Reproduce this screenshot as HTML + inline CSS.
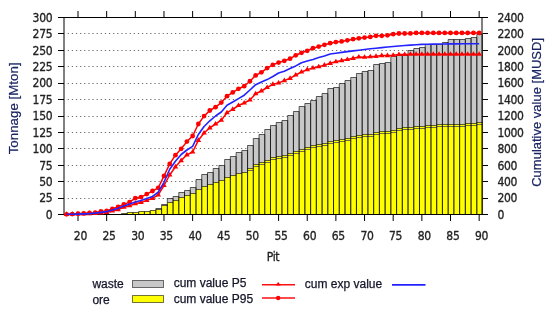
<!DOCTYPE html>
<html><head><meta charset="utf-8"><style>
html,body{margin:0;padding:0;background:#fff;}
body{width:550px;height:310px;position:relative;overflow:hidden;}
</style></head><body>
<svg width="550" height="310" viewBox="0 0 550 310" style="position:absolute;left:0;top:0">
<path d="M67.70 198.00h1.2v1h-1.2zM71.83 198.00h1.2v1h-1.2zM75.96 198.00h1.2v1h-1.2zM80.08 198.00h1.2v1h-1.2zM84.21 198.00h1.2v1h-1.2zM88.34 198.00h1.2v1h-1.2zM92.47 198.00h1.2v1h-1.2zM96.60 198.00h1.2v1h-1.2zM100.72 198.00h1.2v1h-1.2zM104.85 198.00h1.2v1h-1.2zM108.98 198.00h1.2v1h-1.2zM113.11 198.00h1.2v1h-1.2zM117.24 198.00h1.2v1h-1.2zM121.36 198.00h1.2v1h-1.2zM125.49 198.00h1.2v1h-1.2zM129.62 198.00h1.2v1h-1.2zM133.75 198.00h1.2v1h-1.2zM137.88 198.00h1.2v1h-1.2zM142.00 198.00h1.2v1h-1.2zM146.13 198.00h1.2v1h-1.2zM150.26 198.00h1.2v1h-1.2zM154.39 198.00h1.2v1h-1.2zM158.52 198.00h1.2v1h-1.2zM162.64 198.00h1.2v1h-1.2zM166.77 198.00h1.2v1h-1.2zM170.90 198.00h1.2v1h-1.2zM175.03 198.00h1.2v1h-1.2zM179.16 198.00h1.2v1h-1.2zM183.28 198.00h1.2v1h-1.2zM187.41 198.00h1.2v1h-1.2zM191.54 198.00h1.2v1h-1.2zM195.67 198.00h1.2v1h-1.2zM199.80 198.00h1.2v1h-1.2zM203.92 198.00h1.2v1h-1.2zM208.05 198.00h1.2v1h-1.2zM212.18 198.00h1.2v1h-1.2zM216.31 198.00h1.2v1h-1.2zM220.44 198.00h1.2v1h-1.2zM224.56 198.00h1.2v1h-1.2zM228.69 198.00h1.2v1h-1.2zM232.82 198.00h1.2v1h-1.2zM236.95 198.00h1.2v1h-1.2zM241.08 198.00h1.2v1h-1.2zM245.20 198.00h1.2v1h-1.2zM249.33 198.00h1.2v1h-1.2zM253.46 198.00h1.2v1h-1.2zM257.59 198.00h1.2v1h-1.2zM261.72 198.00h1.2v1h-1.2zM265.84 198.00h1.2v1h-1.2zM269.97 198.00h1.2v1h-1.2zM274.10 198.00h1.2v1h-1.2zM278.23 198.00h1.2v1h-1.2zM282.36 198.00h1.2v1h-1.2zM286.48 198.00h1.2v1h-1.2zM290.61 198.00h1.2v1h-1.2zM294.74 198.00h1.2v1h-1.2zM298.87 198.00h1.2v1h-1.2zM303.00 198.00h1.2v1h-1.2zM307.12 198.00h1.2v1h-1.2zM311.25 198.00h1.2v1h-1.2zM315.38 198.00h1.2v1h-1.2zM319.51 198.00h1.2v1h-1.2zM323.64 198.00h1.2v1h-1.2zM327.76 198.00h1.2v1h-1.2zM331.89 198.00h1.2v1h-1.2zM336.02 198.00h1.2v1h-1.2zM340.15 198.00h1.2v1h-1.2zM344.28 198.00h1.2v1h-1.2zM348.40 198.00h1.2v1h-1.2zM352.53 198.00h1.2v1h-1.2zM356.66 198.00h1.2v1h-1.2zM360.79 198.00h1.2v1h-1.2zM364.92 198.00h1.2v1h-1.2zM369.04 198.00h1.2v1h-1.2zM373.17 198.00h1.2v1h-1.2zM377.30 198.00h1.2v1h-1.2zM381.43 198.00h1.2v1h-1.2zM385.56 198.00h1.2v1h-1.2zM389.68 198.00h1.2v1h-1.2zM393.81 198.00h1.2v1h-1.2zM397.94 198.00h1.2v1h-1.2zM402.07 198.00h1.2v1h-1.2zM406.20 198.00h1.2v1h-1.2zM410.32 198.00h1.2v1h-1.2zM414.45 198.00h1.2v1h-1.2zM418.58 198.00h1.2v1h-1.2zM422.71 198.00h1.2v1h-1.2zM426.84 198.00h1.2v1h-1.2zM430.96 198.00h1.2v1h-1.2zM435.09 198.00h1.2v1h-1.2zM439.22 198.00h1.2v1h-1.2zM443.35 198.00h1.2v1h-1.2zM447.48 198.00h1.2v1h-1.2zM451.60 198.00h1.2v1h-1.2zM455.73 198.00h1.2v1h-1.2zM459.86 198.00h1.2v1h-1.2zM463.99 198.00h1.2v1h-1.2zM468.12 198.00h1.2v1h-1.2zM472.24 198.00h1.2v1h-1.2zM476.37 198.00h1.2v1h-1.2zM480.50 198.00h1.2v1h-1.2z" fill="#6a6a6a"/>
<path d="M67.70 181.00h1.2v1h-1.2zM71.83 181.00h1.2v1h-1.2zM75.96 181.00h1.2v1h-1.2zM80.08 181.00h1.2v1h-1.2zM84.21 181.00h1.2v1h-1.2zM88.34 181.00h1.2v1h-1.2zM92.47 181.00h1.2v1h-1.2zM96.60 181.00h1.2v1h-1.2zM100.72 181.00h1.2v1h-1.2zM104.85 181.00h1.2v1h-1.2zM108.98 181.00h1.2v1h-1.2zM113.11 181.00h1.2v1h-1.2zM117.24 181.00h1.2v1h-1.2zM121.36 181.00h1.2v1h-1.2zM125.49 181.00h1.2v1h-1.2zM129.62 181.00h1.2v1h-1.2zM133.75 181.00h1.2v1h-1.2zM137.88 181.00h1.2v1h-1.2zM142.00 181.00h1.2v1h-1.2zM146.13 181.00h1.2v1h-1.2zM150.26 181.00h1.2v1h-1.2zM154.39 181.00h1.2v1h-1.2zM158.52 181.00h1.2v1h-1.2zM162.64 181.00h1.2v1h-1.2zM166.77 181.00h1.2v1h-1.2zM170.90 181.00h1.2v1h-1.2zM175.03 181.00h1.2v1h-1.2zM179.16 181.00h1.2v1h-1.2zM183.28 181.00h1.2v1h-1.2zM187.41 181.00h1.2v1h-1.2zM191.54 181.00h1.2v1h-1.2zM195.67 181.00h1.2v1h-1.2zM199.80 181.00h1.2v1h-1.2zM203.92 181.00h1.2v1h-1.2zM208.05 181.00h1.2v1h-1.2zM212.18 181.00h1.2v1h-1.2zM216.31 181.00h1.2v1h-1.2zM220.44 181.00h1.2v1h-1.2zM224.56 181.00h1.2v1h-1.2zM228.69 181.00h1.2v1h-1.2zM232.82 181.00h1.2v1h-1.2zM236.95 181.00h1.2v1h-1.2zM241.08 181.00h1.2v1h-1.2zM245.20 181.00h1.2v1h-1.2zM249.33 181.00h1.2v1h-1.2zM253.46 181.00h1.2v1h-1.2zM257.59 181.00h1.2v1h-1.2zM261.72 181.00h1.2v1h-1.2zM265.84 181.00h1.2v1h-1.2zM269.97 181.00h1.2v1h-1.2zM274.10 181.00h1.2v1h-1.2zM278.23 181.00h1.2v1h-1.2zM282.36 181.00h1.2v1h-1.2zM286.48 181.00h1.2v1h-1.2zM290.61 181.00h1.2v1h-1.2zM294.74 181.00h1.2v1h-1.2zM298.87 181.00h1.2v1h-1.2zM303.00 181.00h1.2v1h-1.2zM307.12 181.00h1.2v1h-1.2zM311.25 181.00h1.2v1h-1.2zM315.38 181.00h1.2v1h-1.2zM319.51 181.00h1.2v1h-1.2zM323.64 181.00h1.2v1h-1.2zM327.76 181.00h1.2v1h-1.2zM331.89 181.00h1.2v1h-1.2zM336.02 181.00h1.2v1h-1.2zM340.15 181.00h1.2v1h-1.2zM344.28 181.00h1.2v1h-1.2zM348.40 181.00h1.2v1h-1.2zM352.53 181.00h1.2v1h-1.2zM356.66 181.00h1.2v1h-1.2zM360.79 181.00h1.2v1h-1.2zM364.92 181.00h1.2v1h-1.2zM369.04 181.00h1.2v1h-1.2zM373.17 181.00h1.2v1h-1.2zM377.30 181.00h1.2v1h-1.2zM381.43 181.00h1.2v1h-1.2zM385.56 181.00h1.2v1h-1.2zM389.68 181.00h1.2v1h-1.2zM393.81 181.00h1.2v1h-1.2zM397.94 181.00h1.2v1h-1.2zM402.07 181.00h1.2v1h-1.2zM406.20 181.00h1.2v1h-1.2zM410.32 181.00h1.2v1h-1.2zM414.45 181.00h1.2v1h-1.2zM418.58 181.00h1.2v1h-1.2zM422.71 181.00h1.2v1h-1.2zM426.84 181.00h1.2v1h-1.2zM430.96 181.00h1.2v1h-1.2zM435.09 181.00h1.2v1h-1.2zM439.22 181.00h1.2v1h-1.2zM443.35 181.00h1.2v1h-1.2zM447.48 181.00h1.2v1h-1.2zM451.60 181.00h1.2v1h-1.2zM455.73 181.00h1.2v1h-1.2zM459.86 181.00h1.2v1h-1.2zM463.99 181.00h1.2v1h-1.2zM468.12 181.00h1.2v1h-1.2zM472.24 181.00h1.2v1h-1.2zM476.37 181.00h1.2v1h-1.2zM480.50 181.00h1.2v1h-1.2z" fill="#6a6a6a"/>
<path d="M67.70 165.00h1.2v1h-1.2zM71.83 165.00h1.2v1h-1.2zM75.96 165.00h1.2v1h-1.2zM80.08 165.00h1.2v1h-1.2zM84.21 165.00h1.2v1h-1.2zM88.34 165.00h1.2v1h-1.2zM92.47 165.00h1.2v1h-1.2zM96.60 165.00h1.2v1h-1.2zM100.72 165.00h1.2v1h-1.2zM104.85 165.00h1.2v1h-1.2zM108.98 165.00h1.2v1h-1.2zM113.11 165.00h1.2v1h-1.2zM117.24 165.00h1.2v1h-1.2zM121.36 165.00h1.2v1h-1.2zM125.49 165.00h1.2v1h-1.2zM129.62 165.00h1.2v1h-1.2zM133.75 165.00h1.2v1h-1.2zM137.88 165.00h1.2v1h-1.2zM142.00 165.00h1.2v1h-1.2zM146.13 165.00h1.2v1h-1.2zM150.26 165.00h1.2v1h-1.2zM154.39 165.00h1.2v1h-1.2zM158.52 165.00h1.2v1h-1.2zM162.64 165.00h1.2v1h-1.2zM166.77 165.00h1.2v1h-1.2zM170.90 165.00h1.2v1h-1.2zM175.03 165.00h1.2v1h-1.2zM179.16 165.00h1.2v1h-1.2zM183.28 165.00h1.2v1h-1.2zM187.41 165.00h1.2v1h-1.2zM191.54 165.00h1.2v1h-1.2zM195.67 165.00h1.2v1h-1.2zM199.80 165.00h1.2v1h-1.2zM203.92 165.00h1.2v1h-1.2zM208.05 165.00h1.2v1h-1.2zM212.18 165.00h1.2v1h-1.2zM216.31 165.00h1.2v1h-1.2zM220.44 165.00h1.2v1h-1.2zM224.56 165.00h1.2v1h-1.2zM228.69 165.00h1.2v1h-1.2zM232.82 165.00h1.2v1h-1.2zM236.95 165.00h1.2v1h-1.2zM241.08 165.00h1.2v1h-1.2zM245.20 165.00h1.2v1h-1.2zM249.33 165.00h1.2v1h-1.2zM253.46 165.00h1.2v1h-1.2zM257.59 165.00h1.2v1h-1.2zM261.72 165.00h1.2v1h-1.2zM265.84 165.00h1.2v1h-1.2zM269.97 165.00h1.2v1h-1.2zM274.10 165.00h1.2v1h-1.2zM278.23 165.00h1.2v1h-1.2zM282.36 165.00h1.2v1h-1.2zM286.48 165.00h1.2v1h-1.2zM290.61 165.00h1.2v1h-1.2zM294.74 165.00h1.2v1h-1.2zM298.87 165.00h1.2v1h-1.2zM303.00 165.00h1.2v1h-1.2zM307.12 165.00h1.2v1h-1.2zM311.25 165.00h1.2v1h-1.2zM315.38 165.00h1.2v1h-1.2zM319.51 165.00h1.2v1h-1.2zM323.64 165.00h1.2v1h-1.2zM327.76 165.00h1.2v1h-1.2zM331.89 165.00h1.2v1h-1.2zM336.02 165.00h1.2v1h-1.2zM340.15 165.00h1.2v1h-1.2zM344.28 165.00h1.2v1h-1.2zM348.40 165.00h1.2v1h-1.2zM352.53 165.00h1.2v1h-1.2zM356.66 165.00h1.2v1h-1.2zM360.79 165.00h1.2v1h-1.2zM364.92 165.00h1.2v1h-1.2zM369.04 165.00h1.2v1h-1.2zM373.17 165.00h1.2v1h-1.2zM377.30 165.00h1.2v1h-1.2zM381.43 165.00h1.2v1h-1.2zM385.56 165.00h1.2v1h-1.2zM389.68 165.00h1.2v1h-1.2zM393.81 165.00h1.2v1h-1.2zM397.94 165.00h1.2v1h-1.2zM402.07 165.00h1.2v1h-1.2zM406.20 165.00h1.2v1h-1.2zM410.32 165.00h1.2v1h-1.2zM414.45 165.00h1.2v1h-1.2zM418.58 165.00h1.2v1h-1.2zM422.71 165.00h1.2v1h-1.2zM426.84 165.00h1.2v1h-1.2zM430.96 165.00h1.2v1h-1.2zM435.09 165.00h1.2v1h-1.2zM439.22 165.00h1.2v1h-1.2zM443.35 165.00h1.2v1h-1.2zM447.48 165.00h1.2v1h-1.2zM451.60 165.00h1.2v1h-1.2zM455.73 165.00h1.2v1h-1.2zM459.86 165.00h1.2v1h-1.2zM463.99 165.00h1.2v1h-1.2zM468.12 165.00h1.2v1h-1.2zM472.24 165.00h1.2v1h-1.2zM476.37 165.00h1.2v1h-1.2zM480.50 165.00h1.2v1h-1.2z" fill="#6a6a6a"/>
<path d="M67.70 148.00h1.2v1h-1.2zM71.83 148.00h1.2v1h-1.2zM75.96 148.00h1.2v1h-1.2zM80.08 148.00h1.2v1h-1.2zM84.21 148.00h1.2v1h-1.2zM88.34 148.00h1.2v1h-1.2zM92.47 148.00h1.2v1h-1.2zM96.60 148.00h1.2v1h-1.2zM100.72 148.00h1.2v1h-1.2zM104.85 148.00h1.2v1h-1.2zM108.98 148.00h1.2v1h-1.2zM113.11 148.00h1.2v1h-1.2zM117.24 148.00h1.2v1h-1.2zM121.36 148.00h1.2v1h-1.2zM125.49 148.00h1.2v1h-1.2zM129.62 148.00h1.2v1h-1.2zM133.75 148.00h1.2v1h-1.2zM137.88 148.00h1.2v1h-1.2zM142.00 148.00h1.2v1h-1.2zM146.13 148.00h1.2v1h-1.2zM150.26 148.00h1.2v1h-1.2zM154.39 148.00h1.2v1h-1.2zM158.52 148.00h1.2v1h-1.2zM162.64 148.00h1.2v1h-1.2zM166.77 148.00h1.2v1h-1.2zM170.90 148.00h1.2v1h-1.2zM175.03 148.00h1.2v1h-1.2zM179.16 148.00h1.2v1h-1.2zM183.28 148.00h1.2v1h-1.2zM187.41 148.00h1.2v1h-1.2zM191.54 148.00h1.2v1h-1.2zM195.67 148.00h1.2v1h-1.2zM199.80 148.00h1.2v1h-1.2zM203.92 148.00h1.2v1h-1.2zM208.05 148.00h1.2v1h-1.2zM212.18 148.00h1.2v1h-1.2zM216.31 148.00h1.2v1h-1.2zM220.44 148.00h1.2v1h-1.2zM224.56 148.00h1.2v1h-1.2zM228.69 148.00h1.2v1h-1.2zM232.82 148.00h1.2v1h-1.2zM236.95 148.00h1.2v1h-1.2zM241.08 148.00h1.2v1h-1.2zM245.20 148.00h1.2v1h-1.2zM249.33 148.00h1.2v1h-1.2zM253.46 148.00h1.2v1h-1.2zM257.59 148.00h1.2v1h-1.2zM261.72 148.00h1.2v1h-1.2zM265.84 148.00h1.2v1h-1.2zM269.97 148.00h1.2v1h-1.2zM274.10 148.00h1.2v1h-1.2zM278.23 148.00h1.2v1h-1.2zM282.36 148.00h1.2v1h-1.2zM286.48 148.00h1.2v1h-1.2zM290.61 148.00h1.2v1h-1.2zM294.74 148.00h1.2v1h-1.2zM298.87 148.00h1.2v1h-1.2zM303.00 148.00h1.2v1h-1.2zM307.12 148.00h1.2v1h-1.2zM311.25 148.00h1.2v1h-1.2zM315.38 148.00h1.2v1h-1.2zM319.51 148.00h1.2v1h-1.2zM323.64 148.00h1.2v1h-1.2zM327.76 148.00h1.2v1h-1.2zM331.89 148.00h1.2v1h-1.2zM336.02 148.00h1.2v1h-1.2zM340.15 148.00h1.2v1h-1.2zM344.28 148.00h1.2v1h-1.2zM348.40 148.00h1.2v1h-1.2zM352.53 148.00h1.2v1h-1.2zM356.66 148.00h1.2v1h-1.2zM360.79 148.00h1.2v1h-1.2zM364.92 148.00h1.2v1h-1.2zM369.04 148.00h1.2v1h-1.2zM373.17 148.00h1.2v1h-1.2zM377.30 148.00h1.2v1h-1.2zM381.43 148.00h1.2v1h-1.2zM385.56 148.00h1.2v1h-1.2zM389.68 148.00h1.2v1h-1.2zM393.81 148.00h1.2v1h-1.2zM397.94 148.00h1.2v1h-1.2zM402.07 148.00h1.2v1h-1.2zM406.20 148.00h1.2v1h-1.2zM410.32 148.00h1.2v1h-1.2zM414.45 148.00h1.2v1h-1.2zM418.58 148.00h1.2v1h-1.2zM422.71 148.00h1.2v1h-1.2zM426.84 148.00h1.2v1h-1.2zM430.96 148.00h1.2v1h-1.2zM435.09 148.00h1.2v1h-1.2zM439.22 148.00h1.2v1h-1.2zM443.35 148.00h1.2v1h-1.2zM447.48 148.00h1.2v1h-1.2zM451.60 148.00h1.2v1h-1.2zM455.73 148.00h1.2v1h-1.2zM459.86 148.00h1.2v1h-1.2zM463.99 148.00h1.2v1h-1.2zM468.12 148.00h1.2v1h-1.2zM472.24 148.00h1.2v1h-1.2zM476.37 148.00h1.2v1h-1.2zM480.50 148.00h1.2v1h-1.2z" fill="#6a6a6a"/>
<path d="M67.70 132.00h1.2v1h-1.2zM71.83 132.00h1.2v1h-1.2zM75.96 132.00h1.2v1h-1.2zM80.08 132.00h1.2v1h-1.2zM84.21 132.00h1.2v1h-1.2zM88.34 132.00h1.2v1h-1.2zM92.47 132.00h1.2v1h-1.2zM96.60 132.00h1.2v1h-1.2zM100.72 132.00h1.2v1h-1.2zM104.85 132.00h1.2v1h-1.2zM108.98 132.00h1.2v1h-1.2zM113.11 132.00h1.2v1h-1.2zM117.24 132.00h1.2v1h-1.2zM121.36 132.00h1.2v1h-1.2zM125.49 132.00h1.2v1h-1.2zM129.62 132.00h1.2v1h-1.2zM133.75 132.00h1.2v1h-1.2zM137.88 132.00h1.2v1h-1.2zM142.00 132.00h1.2v1h-1.2zM146.13 132.00h1.2v1h-1.2zM150.26 132.00h1.2v1h-1.2zM154.39 132.00h1.2v1h-1.2zM158.52 132.00h1.2v1h-1.2zM162.64 132.00h1.2v1h-1.2zM166.77 132.00h1.2v1h-1.2zM170.90 132.00h1.2v1h-1.2zM175.03 132.00h1.2v1h-1.2zM179.16 132.00h1.2v1h-1.2zM183.28 132.00h1.2v1h-1.2zM187.41 132.00h1.2v1h-1.2zM191.54 132.00h1.2v1h-1.2zM195.67 132.00h1.2v1h-1.2zM199.80 132.00h1.2v1h-1.2zM203.92 132.00h1.2v1h-1.2zM208.05 132.00h1.2v1h-1.2zM212.18 132.00h1.2v1h-1.2zM216.31 132.00h1.2v1h-1.2zM220.44 132.00h1.2v1h-1.2zM224.56 132.00h1.2v1h-1.2zM228.69 132.00h1.2v1h-1.2zM232.82 132.00h1.2v1h-1.2zM236.95 132.00h1.2v1h-1.2zM241.08 132.00h1.2v1h-1.2zM245.20 132.00h1.2v1h-1.2zM249.33 132.00h1.2v1h-1.2zM253.46 132.00h1.2v1h-1.2zM257.59 132.00h1.2v1h-1.2zM261.72 132.00h1.2v1h-1.2zM265.84 132.00h1.2v1h-1.2zM269.97 132.00h1.2v1h-1.2zM274.10 132.00h1.2v1h-1.2zM278.23 132.00h1.2v1h-1.2zM282.36 132.00h1.2v1h-1.2zM286.48 132.00h1.2v1h-1.2zM290.61 132.00h1.2v1h-1.2zM294.74 132.00h1.2v1h-1.2zM298.87 132.00h1.2v1h-1.2zM303.00 132.00h1.2v1h-1.2zM307.12 132.00h1.2v1h-1.2zM311.25 132.00h1.2v1h-1.2zM315.38 132.00h1.2v1h-1.2zM319.51 132.00h1.2v1h-1.2zM323.64 132.00h1.2v1h-1.2zM327.76 132.00h1.2v1h-1.2zM331.89 132.00h1.2v1h-1.2zM336.02 132.00h1.2v1h-1.2zM340.15 132.00h1.2v1h-1.2zM344.28 132.00h1.2v1h-1.2zM348.40 132.00h1.2v1h-1.2zM352.53 132.00h1.2v1h-1.2zM356.66 132.00h1.2v1h-1.2zM360.79 132.00h1.2v1h-1.2zM364.92 132.00h1.2v1h-1.2zM369.04 132.00h1.2v1h-1.2zM373.17 132.00h1.2v1h-1.2zM377.30 132.00h1.2v1h-1.2zM381.43 132.00h1.2v1h-1.2zM385.56 132.00h1.2v1h-1.2zM389.68 132.00h1.2v1h-1.2zM393.81 132.00h1.2v1h-1.2zM397.94 132.00h1.2v1h-1.2zM402.07 132.00h1.2v1h-1.2zM406.20 132.00h1.2v1h-1.2zM410.32 132.00h1.2v1h-1.2zM414.45 132.00h1.2v1h-1.2zM418.58 132.00h1.2v1h-1.2zM422.71 132.00h1.2v1h-1.2zM426.84 132.00h1.2v1h-1.2zM430.96 132.00h1.2v1h-1.2zM435.09 132.00h1.2v1h-1.2zM439.22 132.00h1.2v1h-1.2zM443.35 132.00h1.2v1h-1.2zM447.48 132.00h1.2v1h-1.2zM451.60 132.00h1.2v1h-1.2zM455.73 132.00h1.2v1h-1.2zM459.86 132.00h1.2v1h-1.2zM463.99 132.00h1.2v1h-1.2zM468.12 132.00h1.2v1h-1.2zM472.24 132.00h1.2v1h-1.2zM476.37 132.00h1.2v1h-1.2zM480.50 132.00h1.2v1h-1.2z" fill="#6a6a6a"/>
<path d="M67.70 116.00h1.2v1h-1.2zM71.83 116.00h1.2v1h-1.2zM75.96 116.00h1.2v1h-1.2zM80.08 116.00h1.2v1h-1.2zM84.21 116.00h1.2v1h-1.2zM88.34 116.00h1.2v1h-1.2zM92.47 116.00h1.2v1h-1.2zM96.60 116.00h1.2v1h-1.2zM100.72 116.00h1.2v1h-1.2zM104.85 116.00h1.2v1h-1.2zM108.98 116.00h1.2v1h-1.2zM113.11 116.00h1.2v1h-1.2zM117.24 116.00h1.2v1h-1.2zM121.36 116.00h1.2v1h-1.2zM125.49 116.00h1.2v1h-1.2zM129.62 116.00h1.2v1h-1.2zM133.75 116.00h1.2v1h-1.2zM137.88 116.00h1.2v1h-1.2zM142.00 116.00h1.2v1h-1.2zM146.13 116.00h1.2v1h-1.2zM150.26 116.00h1.2v1h-1.2zM154.39 116.00h1.2v1h-1.2zM158.52 116.00h1.2v1h-1.2zM162.64 116.00h1.2v1h-1.2zM166.77 116.00h1.2v1h-1.2zM170.90 116.00h1.2v1h-1.2zM175.03 116.00h1.2v1h-1.2zM179.16 116.00h1.2v1h-1.2zM183.28 116.00h1.2v1h-1.2zM187.41 116.00h1.2v1h-1.2zM191.54 116.00h1.2v1h-1.2zM195.67 116.00h1.2v1h-1.2zM199.80 116.00h1.2v1h-1.2zM203.92 116.00h1.2v1h-1.2zM208.05 116.00h1.2v1h-1.2zM212.18 116.00h1.2v1h-1.2zM216.31 116.00h1.2v1h-1.2zM220.44 116.00h1.2v1h-1.2zM224.56 116.00h1.2v1h-1.2zM228.69 116.00h1.2v1h-1.2zM232.82 116.00h1.2v1h-1.2zM236.95 116.00h1.2v1h-1.2zM241.08 116.00h1.2v1h-1.2zM245.20 116.00h1.2v1h-1.2zM249.33 116.00h1.2v1h-1.2zM253.46 116.00h1.2v1h-1.2zM257.59 116.00h1.2v1h-1.2zM261.72 116.00h1.2v1h-1.2zM265.84 116.00h1.2v1h-1.2zM269.97 116.00h1.2v1h-1.2zM274.10 116.00h1.2v1h-1.2zM278.23 116.00h1.2v1h-1.2zM282.36 116.00h1.2v1h-1.2zM286.48 116.00h1.2v1h-1.2zM290.61 116.00h1.2v1h-1.2zM294.74 116.00h1.2v1h-1.2zM298.87 116.00h1.2v1h-1.2zM303.00 116.00h1.2v1h-1.2zM307.12 116.00h1.2v1h-1.2zM311.25 116.00h1.2v1h-1.2zM315.38 116.00h1.2v1h-1.2zM319.51 116.00h1.2v1h-1.2zM323.64 116.00h1.2v1h-1.2zM327.76 116.00h1.2v1h-1.2zM331.89 116.00h1.2v1h-1.2zM336.02 116.00h1.2v1h-1.2zM340.15 116.00h1.2v1h-1.2zM344.28 116.00h1.2v1h-1.2zM348.40 116.00h1.2v1h-1.2zM352.53 116.00h1.2v1h-1.2zM356.66 116.00h1.2v1h-1.2zM360.79 116.00h1.2v1h-1.2zM364.92 116.00h1.2v1h-1.2zM369.04 116.00h1.2v1h-1.2zM373.17 116.00h1.2v1h-1.2zM377.30 116.00h1.2v1h-1.2zM381.43 116.00h1.2v1h-1.2zM385.56 116.00h1.2v1h-1.2zM389.68 116.00h1.2v1h-1.2zM393.81 116.00h1.2v1h-1.2zM397.94 116.00h1.2v1h-1.2zM402.07 116.00h1.2v1h-1.2zM406.20 116.00h1.2v1h-1.2zM410.32 116.00h1.2v1h-1.2zM414.45 116.00h1.2v1h-1.2zM418.58 116.00h1.2v1h-1.2zM422.71 116.00h1.2v1h-1.2zM426.84 116.00h1.2v1h-1.2zM430.96 116.00h1.2v1h-1.2zM435.09 116.00h1.2v1h-1.2zM439.22 116.00h1.2v1h-1.2zM443.35 116.00h1.2v1h-1.2zM447.48 116.00h1.2v1h-1.2zM451.60 116.00h1.2v1h-1.2zM455.73 116.00h1.2v1h-1.2zM459.86 116.00h1.2v1h-1.2zM463.99 116.00h1.2v1h-1.2zM468.12 116.00h1.2v1h-1.2zM472.24 116.00h1.2v1h-1.2zM476.37 116.00h1.2v1h-1.2zM480.50 116.00h1.2v1h-1.2z" fill="#6a6a6a"/>
<path d="M67.70 99.00h1.2v1h-1.2zM71.83 99.00h1.2v1h-1.2zM75.96 99.00h1.2v1h-1.2zM80.08 99.00h1.2v1h-1.2zM84.21 99.00h1.2v1h-1.2zM88.34 99.00h1.2v1h-1.2zM92.47 99.00h1.2v1h-1.2zM96.60 99.00h1.2v1h-1.2zM100.72 99.00h1.2v1h-1.2zM104.85 99.00h1.2v1h-1.2zM108.98 99.00h1.2v1h-1.2zM113.11 99.00h1.2v1h-1.2zM117.24 99.00h1.2v1h-1.2zM121.36 99.00h1.2v1h-1.2zM125.49 99.00h1.2v1h-1.2zM129.62 99.00h1.2v1h-1.2zM133.75 99.00h1.2v1h-1.2zM137.88 99.00h1.2v1h-1.2zM142.00 99.00h1.2v1h-1.2zM146.13 99.00h1.2v1h-1.2zM150.26 99.00h1.2v1h-1.2zM154.39 99.00h1.2v1h-1.2zM158.52 99.00h1.2v1h-1.2zM162.64 99.00h1.2v1h-1.2zM166.77 99.00h1.2v1h-1.2zM170.90 99.00h1.2v1h-1.2zM175.03 99.00h1.2v1h-1.2zM179.16 99.00h1.2v1h-1.2zM183.28 99.00h1.2v1h-1.2zM187.41 99.00h1.2v1h-1.2zM191.54 99.00h1.2v1h-1.2zM195.67 99.00h1.2v1h-1.2zM199.80 99.00h1.2v1h-1.2zM203.92 99.00h1.2v1h-1.2zM208.05 99.00h1.2v1h-1.2zM212.18 99.00h1.2v1h-1.2zM216.31 99.00h1.2v1h-1.2zM220.44 99.00h1.2v1h-1.2zM224.56 99.00h1.2v1h-1.2zM228.69 99.00h1.2v1h-1.2zM232.82 99.00h1.2v1h-1.2zM236.95 99.00h1.2v1h-1.2zM241.08 99.00h1.2v1h-1.2zM245.20 99.00h1.2v1h-1.2zM249.33 99.00h1.2v1h-1.2zM253.46 99.00h1.2v1h-1.2zM257.59 99.00h1.2v1h-1.2zM261.72 99.00h1.2v1h-1.2zM265.84 99.00h1.2v1h-1.2zM269.97 99.00h1.2v1h-1.2zM274.10 99.00h1.2v1h-1.2zM278.23 99.00h1.2v1h-1.2zM282.36 99.00h1.2v1h-1.2zM286.48 99.00h1.2v1h-1.2zM290.61 99.00h1.2v1h-1.2zM294.74 99.00h1.2v1h-1.2zM298.87 99.00h1.2v1h-1.2zM303.00 99.00h1.2v1h-1.2zM307.12 99.00h1.2v1h-1.2zM311.25 99.00h1.2v1h-1.2zM315.38 99.00h1.2v1h-1.2zM319.51 99.00h1.2v1h-1.2zM323.64 99.00h1.2v1h-1.2zM327.76 99.00h1.2v1h-1.2zM331.89 99.00h1.2v1h-1.2zM336.02 99.00h1.2v1h-1.2zM340.15 99.00h1.2v1h-1.2zM344.28 99.00h1.2v1h-1.2zM348.40 99.00h1.2v1h-1.2zM352.53 99.00h1.2v1h-1.2zM356.66 99.00h1.2v1h-1.2zM360.79 99.00h1.2v1h-1.2zM364.92 99.00h1.2v1h-1.2zM369.04 99.00h1.2v1h-1.2zM373.17 99.00h1.2v1h-1.2zM377.30 99.00h1.2v1h-1.2zM381.43 99.00h1.2v1h-1.2zM385.56 99.00h1.2v1h-1.2zM389.68 99.00h1.2v1h-1.2zM393.81 99.00h1.2v1h-1.2zM397.94 99.00h1.2v1h-1.2zM402.07 99.00h1.2v1h-1.2zM406.20 99.00h1.2v1h-1.2zM410.32 99.00h1.2v1h-1.2zM414.45 99.00h1.2v1h-1.2zM418.58 99.00h1.2v1h-1.2zM422.71 99.00h1.2v1h-1.2zM426.84 99.00h1.2v1h-1.2zM430.96 99.00h1.2v1h-1.2zM435.09 99.00h1.2v1h-1.2zM439.22 99.00h1.2v1h-1.2zM443.35 99.00h1.2v1h-1.2zM447.48 99.00h1.2v1h-1.2zM451.60 99.00h1.2v1h-1.2zM455.73 99.00h1.2v1h-1.2zM459.86 99.00h1.2v1h-1.2zM463.99 99.00h1.2v1h-1.2zM468.12 99.00h1.2v1h-1.2zM472.24 99.00h1.2v1h-1.2zM476.37 99.00h1.2v1h-1.2zM480.50 99.00h1.2v1h-1.2z" fill="#6a6a6a"/>
<path d="M67.70 83.00h1.2v1h-1.2zM71.83 83.00h1.2v1h-1.2zM75.96 83.00h1.2v1h-1.2zM80.08 83.00h1.2v1h-1.2zM84.21 83.00h1.2v1h-1.2zM88.34 83.00h1.2v1h-1.2zM92.47 83.00h1.2v1h-1.2zM96.60 83.00h1.2v1h-1.2zM100.72 83.00h1.2v1h-1.2zM104.85 83.00h1.2v1h-1.2zM108.98 83.00h1.2v1h-1.2zM113.11 83.00h1.2v1h-1.2zM117.24 83.00h1.2v1h-1.2zM121.36 83.00h1.2v1h-1.2zM125.49 83.00h1.2v1h-1.2zM129.62 83.00h1.2v1h-1.2zM133.75 83.00h1.2v1h-1.2zM137.88 83.00h1.2v1h-1.2zM142.00 83.00h1.2v1h-1.2zM146.13 83.00h1.2v1h-1.2zM150.26 83.00h1.2v1h-1.2zM154.39 83.00h1.2v1h-1.2zM158.52 83.00h1.2v1h-1.2zM162.64 83.00h1.2v1h-1.2zM166.77 83.00h1.2v1h-1.2zM170.90 83.00h1.2v1h-1.2zM175.03 83.00h1.2v1h-1.2zM179.16 83.00h1.2v1h-1.2zM183.28 83.00h1.2v1h-1.2zM187.41 83.00h1.2v1h-1.2zM191.54 83.00h1.2v1h-1.2zM195.67 83.00h1.2v1h-1.2zM199.80 83.00h1.2v1h-1.2zM203.92 83.00h1.2v1h-1.2zM208.05 83.00h1.2v1h-1.2zM212.18 83.00h1.2v1h-1.2zM216.31 83.00h1.2v1h-1.2zM220.44 83.00h1.2v1h-1.2zM224.56 83.00h1.2v1h-1.2zM228.69 83.00h1.2v1h-1.2zM232.82 83.00h1.2v1h-1.2zM236.95 83.00h1.2v1h-1.2zM241.08 83.00h1.2v1h-1.2zM245.20 83.00h1.2v1h-1.2zM249.33 83.00h1.2v1h-1.2zM253.46 83.00h1.2v1h-1.2zM257.59 83.00h1.2v1h-1.2zM261.72 83.00h1.2v1h-1.2zM265.84 83.00h1.2v1h-1.2zM269.97 83.00h1.2v1h-1.2zM274.10 83.00h1.2v1h-1.2zM278.23 83.00h1.2v1h-1.2zM282.36 83.00h1.2v1h-1.2zM286.48 83.00h1.2v1h-1.2zM290.61 83.00h1.2v1h-1.2zM294.74 83.00h1.2v1h-1.2zM298.87 83.00h1.2v1h-1.2zM303.00 83.00h1.2v1h-1.2zM307.12 83.00h1.2v1h-1.2zM311.25 83.00h1.2v1h-1.2zM315.38 83.00h1.2v1h-1.2zM319.51 83.00h1.2v1h-1.2zM323.64 83.00h1.2v1h-1.2zM327.76 83.00h1.2v1h-1.2zM331.89 83.00h1.2v1h-1.2zM336.02 83.00h1.2v1h-1.2zM340.15 83.00h1.2v1h-1.2zM344.28 83.00h1.2v1h-1.2zM348.40 83.00h1.2v1h-1.2zM352.53 83.00h1.2v1h-1.2zM356.66 83.00h1.2v1h-1.2zM360.79 83.00h1.2v1h-1.2zM364.92 83.00h1.2v1h-1.2zM369.04 83.00h1.2v1h-1.2zM373.17 83.00h1.2v1h-1.2zM377.30 83.00h1.2v1h-1.2zM381.43 83.00h1.2v1h-1.2zM385.56 83.00h1.2v1h-1.2zM389.68 83.00h1.2v1h-1.2zM393.81 83.00h1.2v1h-1.2zM397.94 83.00h1.2v1h-1.2zM402.07 83.00h1.2v1h-1.2zM406.20 83.00h1.2v1h-1.2zM410.32 83.00h1.2v1h-1.2zM414.45 83.00h1.2v1h-1.2zM418.58 83.00h1.2v1h-1.2zM422.71 83.00h1.2v1h-1.2zM426.84 83.00h1.2v1h-1.2zM430.96 83.00h1.2v1h-1.2zM435.09 83.00h1.2v1h-1.2zM439.22 83.00h1.2v1h-1.2zM443.35 83.00h1.2v1h-1.2zM447.48 83.00h1.2v1h-1.2zM451.60 83.00h1.2v1h-1.2zM455.73 83.00h1.2v1h-1.2zM459.86 83.00h1.2v1h-1.2zM463.99 83.00h1.2v1h-1.2zM468.12 83.00h1.2v1h-1.2zM472.24 83.00h1.2v1h-1.2zM476.37 83.00h1.2v1h-1.2zM480.50 83.00h1.2v1h-1.2z" fill="#6a6a6a"/>
<path d="M67.70 66.00h1.2v1h-1.2zM71.83 66.00h1.2v1h-1.2zM75.96 66.00h1.2v1h-1.2zM80.08 66.00h1.2v1h-1.2zM84.21 66.00h1.2v1h-1.2zM88.34 66.00h1.2v1h-1.2zM92.47 66.00h1.2v1h-1.2zM96.60 66.00h1.2v1h-1.2zM100.72 66.00h1.2v1h-1.2zM104.85 66.00h1.2v1h-1.2zM108.98 66.00h1.2v1h-1.2zM113.11 66.00h1.2v1h-1.2zM117.24 66.00h1.2v1h-1.2zM121.36 66.00h1.2v1h-1.2zM125.49 66.00h1.2v1h-1.2zM129.62 66.00h1.2v1h-1.2zM133.75 66.00h1.2v1h-1.2zM137.88 66.00h1.2v1h-1.2zM142.00 66.00h1.2v1h-1.2zM146.13 66.00h1.2v1h-1.2zM150.26 66.00h1.2v1h-1.2zM154.39 66.00h1.2v1h-1.2zM158.52 66.00h1.2v1h-1.2zM162.64 66.00h1.2v1h-1.2zM166.77 66.00h1.2v1h-1.2zM170.90 66.00h1.2v1h-1.2zM175.03 66.00h1.2v1h-1.2zM179.16 66.00h1.2v1h-1.2zM183.28 66.00h1.2v1h-1.2zM187.41 66.00h1.2v1h-1.2zM191.54 66.00h1.2v1h-1.2zM195.67 66.00h1.2v1h-1.2zM199.80 66.00h1.2v1h-1.2zM203.92 66.00h1.2v1h-1.2zM208.05 66.00h1.2v1h-1.2zM212.18 66.00h1.2v1h-1.2zM216.31 66.00h1.2v1h-1.2zM220.44 66.00h1.2v1h-1.2zM224.56 66.00h1.2v1h-1.2zM228.69 66.00h1.2v1h-1.2zM232.82 66.00h1.2v1h-1.2zM236.95 66.00h1.2v1h-1.2zM241.08 66.00h1.2v1h-1.2zM245.20 66.00h1.2v1h-1.2zM249.33 66.00h1.2v1h-1.2zM253.46 66.00h1.2v1h-1.2zM257.59 66.00h1.2v1h-1.2zM261.72 66.00h1.2v1h-1.2zM265.84 66.00h1.2v1h-1.2zM269.97 66.00h1.2v1h-1.2zM274.10 66.00h1.2v1h-1.2zM278.23 66.00h1.2v1h-1.2zM282.36 66.00h1.2v1h-1.2zM286.48 66.00h1.2v1h-1.2zM290.61 66.00h1.2v1h-1.2zM294.74 66.00h1.2v1h-1.2zM298.87 66.00h1.2v1h-1.2zM303.00 66.00h1.2v1h-1.2zM307.12 66.00h1.2v1h-1.2zM311.25 66.00h1.2v1h-1.2zM315.38 66.00h1.2v1h-1.2zM319.51 66.00h1.2v1h-1.2zM323.64 66.00h1.2v1h-1.2zM327.76 66.00h1.2v1h-1.2zM331.89 66.00h1.2v1h-1.2zM336.02 66.00h1.2v1h-1.2zM340.15 66.00h1.2v1h-1.2zM344.28 66.00h1.2v1h-1.2zM348.40 66.00h1.2v1h-1.2zM352.53 66.00h1.2v1h-1.2zM356.66 66.00h1.2v1h-1.2zM360.79 66.00h1.2v1h-1.2zM364.92 66.00h1.2v1h-1.2zM369.04 66.00h1.2v1h-1.2zM373.17 66.00h1.2v1h-1.2zM377.30 66.00h1.2v1h-1.2zM381.43 66.00h1.2v1h-1.2zM385.56 66.00h1.2v1h-1.2zM389.68 66.00h1.2v1h-1.2zM393.81 66.00h1.2v1h-1.2zM397.94 66.00h1.2v1h-1.2zM402.07 66.00h1.2v1h-1.2zM406.20 66.00h1.2v1h-1.2zM410.32 66.00h1.2v1h-1.2zM414.45 66.00h1.2v1h-1.2zM418.58 66.00h1.2v1h-1.2zM422.71 66.00h1.2v1h-1.2zM426.84 66.00h1.2v1h-1.2zM430.96 66.00h1.2v1h-1.2zM435.09 66.00h1.2v1h-1.2zM439.22 66.00h1.2v1h-1.2zM443.35 66.00h1.2v1h-1.2zM447.48 66.00h1.2v1h-1.2zM451.60 66.00h1.2v1h-1.2zM455.73 66.00h1.2v1h-1.2zM459.86 66.00h1.2v1h-1.2zM463.99 66.00h1.2v1h-1.2zM468.12 66.00h1.2v1h-1.2zM472.24 66.00h1.2v1h-1.2zM476.37 66.00h1.2v1h-1.2zM480.50 66.00h1.2v1h-1.2z" fill="#6a6a6a"/>
<path d="M67.70 50.00h1.2v1h-1.2zM71.83 50.00h1.2v1h-1.2zM75.96 50.00h1.2v1h-1.2zM80.08 50.00h1.2v1h-1.2zM84.21 50.00h1.2v1h-1.2zM88.34 50.00h1.2v1h-1.2zM92.47 50.00h1.2v1h-1.2zM96.60 50.00h1.2v1h-1.2zM100.72 50.00h1.2v1h-1.2zM104.85 50.00h1.2v1h-1.2zM108.98 50.00h1.2v1h-1.2zM113.11 50.00h1.2v1h-1.2zM117.24 50.00h1.2v1h-1.2zM121.36 50.00h1.2v1h-1.2zM125.49 50.00h1.2v1h-1.2zM129.62 50.00h1.2v1h-1.2zM133.75 50.00h1.2v1h-1.2zM137.88 50.00h1.2v1h-1.2zM142.00 50.00h1.2v1h-1.2zM146.13 50.00h1.2v1h-1.2zM150.26 50.00h1.2v1h-1.2zM154.39 50.00h1.2v1h-1.2zM158.52 50.00h1.2v1h-1.2zM162.64 50.00h1.2v1h-1.2zM166.77 50.00h1.2v1h-1.2zM170.90 50.00h1.2v1h-1.2zM175.03 50.00h1.2v1h-1.2zM179.16 50.00h1.2v1h-1.2zM183.28 50.00h1.2v1h-1.2zM187.41 50.00h1.2v1h-1.2zM191.54 50.00h1.2v1h-1.2zM195.67 50.00h1.2v1h-1.2zM199.80 50.00h1.2v1h-1.2zM203.92 50.00h1.2v1h-1.2zM208.05 50.00h1.2v1h-1.2zM212.18 50.00h1.2v1h-1.2zM216.31 50.00h1.2v1h-1.2zM220.44 50.00h1.2v1h-1.2zM224.56 50.00h1.2v1h-1.2zM228.69 50.00h1.2v1h-1.2zM232.82 50.00h1.2v1h-1.2zM236.95 50.00h1.2v1h-1.2zM241.08 50.00h1.2v1h-1.2zM245.20 50.00h1.2v1h-1.2zM249.33 50.00h1.2v1h-1.2zM253.46 50.00h1.2v1h-1.2zM257.59 50.00h1.2v1h-1.2zM261.72 50.00h1.2v1h-1.2zM265.84 50.00h1.2v1h-1.2zM269.97 50.00h1.2v1h-1.2zM274.10 50.00h1.2v1h-1.2zM278.23 50.00h1.2v1h-1.2zM282.36 50.00h1.2v1h-1.2zM286.48 50.00h1.2v1h-1.2zM290.61 50.00h1.2v1h-1.2zM294.74 50.00h1.2v1h-1.2zM298.87 50.00h1.2v1h-1.2zM303.00 50.00h1.2v1h-1.2zM307.12 50.00h1.2v1h-1.2zM311.25 50.00h1.2v1h-1.2zM315.38 50.00h1.2v1h-1.2zM319.51 50.00h1.2v1h-1.2zM323.64 50.00h1.2v1h-1.2zM327.76 50.00h1.2v1h-1.2zM331.89 50.00h1.2v1h-1.2zM336.02 50.00h1.2v1h-1.2zM340.15 50.00h1.2v1h-1.2zM344.28 50.00h1.2v1h-1.2zM348.40 50.00h1.2v1h-1.2zM352.53 50.00h1.2v1h-1.2zM356.66 50.00h1.2v1h-1.2zM360.79 50.00h1.2v1h-1.2zM364.92 50.00h1.2v1h-1.2zM369.04 50.00h1.2v1h-1.2zM373.17 50.00h1.2v1h-1.2zM377.30 50.00h1.2v1h-1.2zM381.43 50.00h1.2v1h-1.2zM385.56 50.00h1.2v1h-1.2zM389.68 50.00h1.2v1h-1.2zM393.81 50.00h1.2v1h-1.2zM397.94 50.00h1.2v1h-1.2zM402.07 50.00h1.2v1h-1.2zM406.20 50.00h1.2v1h-1.2zM410.32 50.00h1.2v1h-1.2zM414.45 50.00h1.2v1h-1.2zM418.58 50.00h1.2v1h-1.2zM422.71 50.00h1.2v1h-1.2zM426.84 50.00h1.2v1h-1.2zM430.96 50.00h1.2v1h-1.2zM435.09 50.00h1.2v1h-1.2zM439.22 50.00h1.2v1h-1.2zM443.35 50.00h1.2v1h-1.2zM447.48 50.00h1.2v1h-1.2zM451.60 50.00h1.2v1h-1.2zM455.73 50.00h1.2v1h-1.2zM459.86 50.00h1.2v1h-1.2zM463.99 50.00h1.2v1h-1.2zM468.12 50.00h1.2v1h-1.2zM472.24 50.00h1.2v1h-1.2zM476.37 50.00h1.2v1h-1.2zM480.50 50.00h1.2v1h-1.2z" fill="#6a6a6a"/>
<path d="M67.70 33.00h1.2v1h-1.2zM71.83 33.00h1.2v1h-1.2zM75.96 33.00h1.2v1h-1.2zM80.08 33.00h1.2v1h-1.2zM84.21 33.00h1.2v1h-1.2zM88.34 33.00h1.2v1h-1.2zM92.47 33.00h1.2v1h-1.2zM96.60 33.00h1.2v1h-1.2zM100.72 33.00h1.2v1h-1.2zM104.85 33.00h1.2v1h-1.2zM108.98 33.00h1.2v1h-1.2zM113.11 33.00h1.2v1h-1.2zM117.24 33.00h1.2v1h-1.2zM121.36 33.00h1.2v1h-1.2zM125.49 33.00h1.2v1h-1.2zM129.62 33.00h1.2v1h-1.2zM133.75 33.00h1.2v1h-1.2zM137.88 33.00h1.2v1h-1.2zM142.00 33.00h1.2v1h-1.2zM146.13 33.00h1.2v1h-1.2zM150.26 33.00h1.2v1h-1.2zM154.39 33.00h1.2v1h-1.2zM158.52 33.00h1.2v1h-1.2zM162.64 33.00h1.2v1h-1.2zM166.77 33.00h1.2v1h-1.2zM170.90 33.00h1.2v1h-1.2zM175.03 33.00h1.2v1h-1.2zM179.16 33.00h1.2v1h-1.2zM183.28 33.00h1.2v1h-1.2zM187.41 33.00h1.2v1h-1.2zM191.54 33.00h1.2v1h-1.2zM195.67 33.00h1.2v1h-1.2zM199.80 33.00h1.2v1h-1.2zM203.92 33.00h1.2v1h-1.2zM208.05 33.00h1.2v1h-1.2zM212.18 33.00h1.2v1h-1.2zM216.31 33.00h1.2v1h-1.2zM220.44 33.00h1.2v1h-1.2zM224.56 33.00h1.2v1h-1.2zM228.69 33.00h1.2v1h-1.2zM232.82 33.00h1.2v1h-1.2zM236.95 33.00h1.2v1h-1.2zM241.08 33.00h1.2v1h-1.2zM245.20 33.00h1.2v1h-1.2zM249.33 33.00h1.2v1h-1.2zM253.46 33.00h1.2v1h-1.2zM257.59 33.00h1.2v1h-1.2zM261.72 33.00h1.2v1h-1.2zM265.84 33.00h1.2v1h-1.2zM269.97 33.00h1.2v1h-1.2zM274.10 33.00h1.2v1h-1.2zM278.23 33.00h1.2v1h-1.2zM282.36 33.00h1.2v1h-1.2zM286.48 33.00h1.2v1h-1.2zM290.61 33.00h1.2v1h-1.2zM294.74 33.00h1.2v1h-1.2zM298.87 33.00h1.2v1h-1.2zM303.00 33.00h1.2v1h-1.2zM307.12 33.00h1.2v1h-1.2zM311.25 33.00h1.2v1h-1.2zM315.38 33.00h1.2v1h-1.2zM319.51 33.00h1.2v1h-1.2zM323.64 33.00h1.2v1h-1.2zM327.76 33.00h1.2v1h-1.2zM331.89 33.00h1.2v1h-1.2zM336.02 33.00h1.2v1h-1.2zM340.15 33.00h1.2v1h-1.2zM344.28 33.00h1.2v1h-1.2zM348.40 33.00h1.2v1h-1.2zM352.53 33.00h1.2v1h-1.2zM356.66 33.00h1.2v1h-1.2zM360.79 33.00h1.2v1h-1.2zM364.92 33.00h1.2v1h-1.2zM369.04 33.00h1.2v1h-1.2zM373.17 33.00h1.2v1h-1.2zM377.30 33.00h1.2v1h-1.2zM381.43 33.00h1.2v1h-1.2zM385.56 33.00h1.2v1h-1.2zM389.68 33.00h1.2v1h-1.2zM393.81 33.00h1.2v1h-1.2zM397.94 33.00h1.2v1h-1.2zM402.07 33.00h1.2v1h-1.2zM406.20 33.00h1.2v1h-1.2zM410.32 33.00h1.2v1h-1.2zM414.45 33.00h1.2v1h-1.2zM418.58 33.00h1.2v1h-1.2zM422.71 33.00h1.2v1h-1.2zM426.84 33.00h1.2v1h-1.2zM430.96 33.00h1.2v1h-1.2zM435.09 33.00h1.2v1h-1.2zM439.22 33.00h1.2v1h-1.2zM443.35 33.00h1.2v1h-1.2zM447.48 33.00h1.2v1h-1.2zM451.60 33.00h1.2v1h-1.2zM455.73 33.00h1.2v1h-1.2zM459.86 33.00h1.2v1h-1.2zM463.99 33.00h1.2v1h-1.2zM468.12 33.00h1.2v1h-1.2zM472.24 33.00h1.2v1h-1.2zM476.37 33.00h1.2v1h-1.2zM480.50 33.00h1.2v1h-1.2z" fill="#6a6a6a"/>
<rect x="121.48" y="213.50" width="5.731" height="1.00" fill="#ffff00"/>
<rect x="127.21" y="212.50" width="5.731" height="2.00" fill="#ffff00"/>
<rect x="132.94" y="212.50" width="5.731" height="2.00" fill="#ffff00"/>
<rect x="138.68" y="211.50" width="5.731" height="3.00" fill="#ffff00"/>
<rect x="144.41" y="211.50" width="5.731" height="3.00" fill="#ffff00"/>
<rect x="150.14" y="210.50" width="5.731" height="4.00" fill="#ffff00"/>
<rect x="155.87" y="208.50" width="5.731" height="1.00" fill="#c8c8c8"/>
<rect x="155.87" y="209.50" width="5.731" height="5.00" fill="#ffff00"/>
<rect x="161.60" y="204.50" width="5.731" height="1.00" fill="#c8c8c8"/>
<rect x="161.60" y="205.50" width="5.731" height="9.00" fill="#ffff00"/>
<rect x="167.33" y="198.50" width="5.731" height="4.00" fill="#c8c8c8"/>
<rect x="167.33" y="202.50" width="5.731" height="12.00" fill="#ffff00"/>
<rect x="173.06" y="196.50" width="5.731" height="4.00" fill="#c8c8c8"/>
<rect x="173.06" y="200.50" width="5.731" height="14.00" fill="#ffff00"/>
<rect x="178.79" y="192.50" width="5.731" height="5.00" fill="#c8c8c8"/>
<rect x="178.79" y="197.50" width="5.731" height="17.00" fill="#ffff00"/>
<rect x="184.52" y="190.50" width="5.731" height="5.00" fill="#c8c8c8"/>
<rect x="184.52" y="195.50" width="5.731" height="19.00" fill="#ffff00"/>
<rect x="190.25" y="187.50" width="5.731" height="6.00" fill="#c8c8c8"/>
<rect x="190.25" y="193.50" width="5.731" height="21.00" fill="#ffff00"/>
<rect x="195.99" y="179.50" width="5.731" height="10.00" fill="#c8c8c8"/>
<rect x="195.99" y="189.50" width="5.731" height="25.00" fill="#ffff00"/>
<rect x="201.72" y="174.50" width="5.731" height="12.00" fill="#c8c8c8"/>
<rect x="201.72" y="186.50" width="5.731" height="28.00" fill="#ffff00"/>
<rect x="207.45" y="172.50" width="5.731" height="12.00" fill="#c8c8c8"/>
<rect x="207.45" y="184.50" width="5.731" height="30.00" fill="#ffff00"/>
<rect x="213.18" y="168.50" width="5.731" height="14.00" fill="#c8c8c8"/>
<rect x="213.18" y="182.50" width="5.731" height="32.00" fill="#ffff00"/>
<rect x="218.91" y="165.50" width="5.731" height="15.00" fill="#c8c8c8"/>
<rect x="218.91" y="180.50" width="5.731" height="34.00" fill="#ffff00"/>
<rect x="224.64" y="159.50" width="5.731" height="18.00" fill="#c8c8c8"/>
<rect x="224.64" y="177.50" width="5.731" height="37.00" fill="#ffff00"/>
<rect x="230.37" y="156.50" width="5.731" height="19.00" fill="#c8c8c8"/>
<rect x="230.37" y="175.50" width="5.731" height="39.00" fill="#ffff00"/>
<rect x="236.10" y="152.50" width="5.731" height="21.00" fill="#c8c8c8"/>
<rect x="236.10" y="173.50" width="5.731" height="41.00" fill="#ffff00"/>
<rect x="241.83" y="150.50" width="5.731" height="22.00" fill="#c8c8c8"/>
<rect x="241.83" y="172.50" width="5.731" height="42.00" fill="#ffff00"/>
<rect x="247.56" y="145.50" width="5.731" height="23.00" fill="#c8c8c8"/>
<rect x="247.56" y="168.50" width="5.731" height="46.00" fill="#ffff00"/>
<rect x="253.30" y="138.50" width="5.731" height="26.00" fill="#c8c8c8"/>
<rect x="253.30" y="164.50" width="5.731" height="50.00" fill="#ffff00"/>
<rect x="259.03" y="134.50" width="5.731" height="28.00" fill="#c8c8c8"/>
<rect x="259.03" y="162.50" width="5.731" height="52.00" fill="#ffff00"/>
<rect x="264.76" y="129.50" width="5.731" height="31.00" fill="#c8c8c8"/>
<rect x="264.76" y="160.50" width="5.731" height="54.00" fill="#ffff00"/>
<rect x="270.49" y="125.50" width="5.731" height="32.00" fill="#c8c8c8"/>
<rect x="270.49" y="157.50" width="5.731" height="57.00" fill="#ffff00"/>
<rect x="276.22" y="122.50" width="5.731" height="34.00" fill="#c8c8c8"/>
<rect x="276.22" y="156.50" width="5.731" height="58.00" fill="#ffff00"/>
<rect x="281.95" y="120.50" width="5.731" height="35.00" fill="#c8c8c8"/>
<rect x="281.95" y="155.50" width="5.731" height="59.00" fill="#ffff00"/>
<rect x="287.68" y="115.50" width="5.731" height="38.00" fill="#c8c8c8"/>
<rect x="287.68" y="153.50" width="5.731" height="61.00" fill="#ffff00"/>
<rect x="293.41" y="111.50" width="5.731" height="40.00" fill="#c8c8c8"/>
<rect x="293.41" y="151.50" width="5.731" height="63.00" fill="#ffff00"/>
<rect x="299.14" y="106.50" width="5.731" height="43.00" fill="#c8c8c8"/>
<rect x="299.14" y="149.50" width="5.731" height="65.00" fill="#ffff00"/>
<rect x="304.87" y="103.50" width="5.731" height="44.00" fill="#c8c8c8"/>
<rect x="304.87" y="147.50" width="5.731" height="67.00" fill="#ffff00"/>
<rect x="310.61" y="100.50" width="5.731" height="45.00" fill="#c8c8c8"/>
<rect x="310.61" y="145.50" width="5.731" height="69.00" fill="#ffff00"/>
<rect x="316.34" y="96.50" width="5.731" height="48.00" fill="#c8c8c8"/>
<rect x="316.34" y="144.50" width="5.731" height="70.00" fill="#ffff00"/>
<rect x="322.07" y="93.50" width="5.731" height="50.00" fill="#c8c8c8"/>
<rect x="322.07" y="143.50" width="5.731" height="71.00" fill="#ffff00"/>
<rect x="327.80" y="88.50" width="5.731" height="53.00" fill="#c8c8c8"/>
<rect x="327.80" y="141.50" width="5.731" height="73.00" fill="#ffff00"/>
<rect x="333.53" y="87.50" width="5.731" height="53.00" fill="#c8c8c8"/>
<rect x="333.53" y="140.50" width="5.731" height="74.00" fill="#ffff00"/>
<rect x="339.26" y="83.50" width="5.731" height="56.00" fill="#c8c8c8"/>
<rect x="339.26" y="139.50" width="5.731" height="75.00" fill="#ffff00"/>
<rect x="344.99" y="80.50" width="5.731" height="58.00" fill="#c8c8c8"/>
<rect x="344.99" y="138.50" width="5.731" height="76.00" fill="#ffff00"/>
<rect x="350.72" y="77.50" width="5.731" height="59.00" fill="#c8c8c8"/>
<rect x="350.72" y="136.50" width="5.731" height="78.00" fill="#ffff00"/>
<rect x="356.45" y="73.50" width="5.731" height="62.00" fill="#c8c8c8"/>
<rect x="356.45" y="135.50" width="5.731" height="79.00" fill="#ffff00"/>
<rect x="362.18" y="71.50" width="5.731" height="63.00" fill="#c8c8c8"/>
<rect x="362.18" y="134.50" width="5.731" height="80.00" fill="#ffff00"/>
<rect x="367.92" y="70.50" width="5.731" height="64.00" fill="#c8c8c8"/>
<rect x="367.92" y="134.50" width="5.731" height="80.00" fill="#ffff00"/>
<rect x="373.65" y="64.50" width="5.731" height="68.00" fill="#c8c8c8"/>
<rect x="373.65" y="132.50" width="5.731" height="82.00" fill="#ffff00"/>
<rect x="379.38" y="63.50" width="5.731" height="68.00" fill="#c8c8c8"/>
<rect x="379.38" y="131.50" width="5.731" height="83.00" fill="#ffff00"/>
<rect x="385.11" y="62.50" width="5.731" height="69.00" fill="#c8c8c8"/>
<rect x="385.11" y="131.50" width="5.731" height="83.00" fill="#ffff00"/>
<rect x="390.84" y="56.50" width="5.731" height="74.00" fill="#c8c8c8"/>
<rect x="390.84" y="130.50" width="5.731" height="84.00" fill="#ffff00"/>
<rect x="396.57" y="55.50" width="5.731" height="73.00" fill="#c8c8c8"/>
<rect x="396.57" y="128.50" width="5.731" height="86.00" fill="#ffff00"/>
<rect x="402.30" y="55.50" width="5.731" height="72.00" fill="#c8c8c8"/>
<rect x="402.30" y="127.50" width="5.731" height="87.00" fill="#ffff00"/>
<rect x="408.03" y="50.50" width="5.731" height="77.00" fill="#c8c8c8"/>
<rect x="408.03" y="127.50" width="5.731" height="87.00" fill="#ffff00"/>
<rect x="413.76" y="48.50" width="5.731" height="78.00" fill="#c8c8c8"/>
<rect x="413.76" y="126.50" width="5.731" height="88.00" fill="#ffff00"/>
<rect x="419.49" y="47.50" width="5.731" height="79.00" fill="#c8c8c8"/>
<rect x="419.49" y="126.50" width="5.731" height="88.00" fill="#ffff00"/>
<rect x="425.23" y="44.50" width="5.731" height="81.00" fill="#c8c8c8"/>
<rect x="425.23" y="125.50" width="5.731" height="89.00" fill="#ffff00"/>
<rect x="430.96" y="44.50" width="5.731" height="81.00" fill="#c8c8c8"/>
<rect x="430.96" y="125.50" width="5.731" height="89.00" fill="#ffff00"/>
<rect x="436.69" y="44.50" width="5.731" height="80.00" fill="#c8c8c8"/>
<rect x="436.69" y="124.50" width="5.731" height="90.00" fill="#ffff00"/>
<rect x="442.42" y="42.50" width="5.731" height="82.00" fill="#c8c8c8"/>
<rect x="442.42" y="124.50" width="5.731" height="90.00" fill="#ffff00"/>
<rect x="448.15" y="39.50" width="5.731" height="85.00" fill="#c8c8c8"/>
<rect x="448.15" y="124.50" width="5.731" height="90.00" fill="#ffff00"/>
<rect x="453.88" y="39.50" width="5.731" height="85.00" fill="#c8c8c8"/>
<rect x="453.88" y="124.50" width="5.731" height="90.00" fill="#ffff00"/>
<rect x="459.61" y="39.50" width="5.731" height="85.00" fill="#c8c8c8"/>
<rect x="459.61" y="124.50" width="5.731" height="90.00" fill="#ffff00"/>
<rect x="465.34" y="38.50" width="5.731" height="85.00" fill="#c8c8c8"/>
<rect x="465.34" y="123.50" width="5.731" height="91.00" fill="#ffff00"/>
<rect x="471.07" y="37.50" width="5.731" height="86.00" fill="#c8c8c8"/>
<rect x="471.07" y="123.50" width="5.731" height="91.00" fill="#ffff00"/>
<rect x="476.80" y="34.50" width="5.731" height="88.00" fill="#c8c8c8"/>
<rect x="476.80" y="122.50" width="5.731" height="92.00" fill="#ffff00"/>
<path d="M247.56 170.50H253.30M253.30 166.50H259.03M259.03 164.50H264.76M264.76 162.50H270.49M270.49 159.50H276.22M276.22 158.50H281.95M281.95 157.50H287.68M287.68 155.50H293.41M293.41 153.50H299.14M299.14 151.50H304.87M304.87 149.50H310.61M310.61 147.50H316.34M316.34 146.50H322.07M322.07 145.50H327.80M327.80 143.50H333.53M333.53 142.50H339.26M339.26 141.50H344.99M344.99 140.50H350.72M350.72 138.50H356.45M356.45 137.50H362.18M362.18 136.50H367.92M367.92 136.50H373.65M373.65 134.50H379.38M379.38 133.50H385.11M385.11 133.50H390.84M390.84 132.50H396.57M396.57 130.50H402.30M402.30 129.50H408.03M408.03 129.50H413.76M413.76 128.50H419.49M419.49 128.50H425.23M425.23 127.50H430.96M430.96 127.50H436.69M436.69 126.50H442.42M442.42 126.50H448.15M448.15 126.50H453.88M453.88 126.50H459.61M459.61 126.50H465.34M465.34 125.50H471.07M471.07 125.50H476.80M476.80 124.50H482.54" fill="none" stroke="#707040" stroke-width="1"/>
<path d="M121.48 214.5V213.50H127.21V214.5M127.21 214.5V212.50H132.94V214.5M132.94 214.5V212.50H138.68V214.5M138.68 214.5V211.50H144.41V214.5M144.41 214.5V211.50H150.14V214.5M150.14 214.5V210.50H155.87V214.5M155.87 214.5V208.50H161.60V214.5M155.87 209.50H161.60M161.60 214.5V204.50H167.33V214.5M161.60 205.50H167.33M167.33 214.5V198.50H173.06V214.5M167.33 202.50H173.06M173.06 214.5V196.50H178.79V214.5M173.06 200.50H178.79M178.79 214.5V192.50H184.52V214.5M178.79 197.50H184.52M184.52 214.5V190.50H190.25V214.5M184.52 195.50H190.25M190.25 214.5V187.50H195.99V214.5M190.25 193.50H195.99M195.99 214.5V179.50H201.72V214.5M195.99 189.50H201.72M201.72 214.5V174.50H207.45V214.5M201.72 186.50H207.45M207.45 214.5V172.50H213.18V214.5M207.45 184.50H213.18M213.18 214.5V168.50H218.91V214.5M213.18 182.50H218.91M218.91 214.5V165.50H224.64V214.5M218.91 180.50H224.64M224.64 214.5V159.50H230.37V214.5M224.64 177.50H230.37M230.37 214.5V156.50H236.10V214.5M230.37 175.50H236.10M236.10 214.5V152.50H241.83V214.5M236.10 173.50H241.83M241.83 214.5V150.50H247.56V214.5M241.83 172.50H247.56M247.56 214.5V145.50H253.30V214.5M247.56 168.50H253.30M253.30 214.5V138.50H259.03V214.5M253.30 164.50H259.03M259.03 214.5V134.50H264.76V214.5M259.03 162.50H264.76M264.76 214.5V129.50H270.49V214.5M264.76 160.50H270.49M270.49 214.5V125.50H276.22V214.5M270.49 157.50H276.22M276.22 214.5V122.50H281.95V214.5M276.22 156.50H281.95M281.95 214.5V120.50H287.68V214.5M281.95 155.50H287.68M287.68 214.5V115.50H293.41V214.5M287.68 153.50H293.41M293.41 214.5V111.50H299.14V214.5M293.41 151.50H299.14M299.14 214.5V106.50H304.87V214.5M299.14 149.50H304.87M304.87 214.5V103.50H310.61V214.5M304.87 147.50H310.61M310.61 214.5V100.50H316.34V214.5M310.61 145.50H316.34M316.34 214.5V96.50H322.07V214.5M316.34 144.50H322.07M322.07 214.5V93.50H327.80V214.5M322.07 143.50H327.80M327.80 214.5V88.50H333.53V214.5M327.80 141.50H333.53M333.53 214.5V87.50H339.26V214.5M333.53 140.50H339.26M339.26 214.5V83.50H344.99V214.5M339.26 139.50H344.99M344.99 214.5V80.50H350.72V214.5M344.99 138.50H350.72M350.72 214.5V77.50H356.45V214.5M350.72 136.50H356.45M356.45 214.5V73.50H362.18V214.5M356.45 135.50H362.18M362.18 214.5V71.50H367.92V214.5M362.18 134.50H367.92M367.92 214.5V70.50H373.65V214.5M367.92 134.50H373.65M373.65 214.5V64.50H379.38V214.5M373.65 132.50H379.38M379.38 214.5V63.50H385.11V214.5M379.38 131.50H385.11M385.11 214.5V62.50H390.84V214.5M385.11 131.50H390.84M390.84 214.5V56.50H396.57V214.5M390.84 130.50H396.57M396.57 214.5V55.50H402.30V214.5M396.57 128.50H402.30M402.30 214.5V55.50H408.03V214.5M402.30 127.50H408.03M408.03 214.5V50.50H413.76V214.5M408.03 127.50H413.76M413.76 214.5V48.50H419.49V214.5M413.76 126.50H419.49M419.49 214.5V47.50H425.23V214.5M419.49 126.50H425.23M425.23 214.5V44.50H430.96V214.5M425.23 125.50H430.96M430.96 214.5V44.50H436.69V214.5M430.96 125.50H436.69M436.69 214.5V44.50H442.42V214.5M436.69 124.50H442.42M442.42 214.5V42.50H448.15V214.5M442.42 124.50H448.15M448.15 214.5V39.50H453.88V214.5M448.15 124.50H453.88M453.88 214.5V39.50H459.61V214.5M453.88 124.50H459.61M459.61 214.5V39.50H465.34V214.5M459.61 124.50H465.34M465.34 214.5V38.50H471.07V214.5M465.34 123.50H471.07M471.07 214.5V37.50H476.80V214.5M471.07 123.50H476.80M476.80 214.5V34.50H482.54V214.5M476.80 122.50H482.54" fill="none" stroke="#000" stroke-opacity="0.62" stroke-width="1"/>
<path d="M58 17.5 H488" stroke="#000" stroke-width="1"/>
<path d="M58 214.5 H488" stroke="#000" stroke-width="1"/>
<path d="M64 17 V215" stroke="#000" stroke-width="1"/>
<path d="M482 17 V215" stroke="#000" stroke-width="1"/>
<path d="M58 214.50H64 M482.5 214.50H488 M58 198.50H64 M482.5 198.50H488 M58 181.50H64 M482.5 181.50H488 M58 165.50H64 M482.5 165.50H488 M58 148.50H64 M482.5 148.50H488 M58 132.50H64 M482.5 132.50H488 M58 116.50H64 M482.5 116.50H488 M58 99.50H64 M482.5 99.50H488 M58 83.50H64 M482.5 83.50H488 M58 66.50H64 M482.5 66.50H488 M58 50.50H64 M482.5 50.50H488 M58 33.50H64 M482.5 33.50H488 M58 17.50H64 M482.5 17.50H488 M78.00 11V17 M78.00 215V221 M106.66 11V17 M106.66 215V221 M135.31 11V17 M135.31 215V221 M163.97 11V17 M163.97 215V221 M192.62 11V17 M192.62 215V221 M221.28 11V17 M221.28 215V221 M249.93 11V17 M249.93 215V221 M278.59 11V17 M278.59 215V221 M307.24 11V17 M307.24 215V221 M335.89 11V17 M335.89 215V221 M364.55 11V17 M364.55 215V221 M393.20 11V17 M393.20 215V221 M421.86 11V17 M421.86 215V221 M450.51 11V17 M450.51 215V221 M479.17 11V17 M479.17 215V221" stroke="#000" stroke-width="1"/>
<polyline points="66.54,214.30 72.27,214.10 78.00,213.70 83.73,213.30 89.46,212.90 95.19,212.70 100.92,211.30 106.66,210.90 112.39,208.80 118.12,206.90 123.85,204.40 129.58,202.10 135.31,198.20 141.04,197.10 146.77,194.10 152.50,191.00 158.23,187.80 163.97,176.00 169.70,163.90 175.43,155.20 181.16,148.80 186.89,141.60 192.62,136.00 198.35,124.00 204.08,116.10 209.81,110.50 215.54,107.20 221.28,102.60 227.01,96.20 232.74,92.40 238.47,88.80 244.20,86.20 249.93,81.20 255.66,75.40 261.39,72.30 267.12,68.10 272.85,64.80 278.59,62.60 284.32,60.80 290.05,58.70 295.78,55.30 301.51,52.80 307.24,50.80 312.97,48.20 318.70,46.60 324.43,44.80 330.16,43.20 335.89,42.10 341.63,41.40 347.36,40.30 353.09,39.20 358.82,38.30 364.55,37.60 370.28,36.90 376.01,35.80 381.74,35.80 387.47,35.30 393.20,34.20 398.94,33.50 404.67,33.50 410.40,33.40 416.13,32.90 421.86,32.90 427.59,32.90 433.32,32.90 439.05,32.90 444.78,32.90 450.51,32.90 456.25,32.90 461.98,32.90 467.71,32.90 473.44,32.90 479.17,32.90" fill="none" stroke="#ff0000" stroke-width="1.5" stroke-linejoin="round"/>
<polyline points="66.54,214.30 72.27,214.20 78.00,214.00 83.73,213.80 89.46,213.60 95.19,213.40 100.92,213.00 106.66,212.40 112.39,211.00 118.12,209.60 123.85,207.20 129.58,205.70 135.31,203.60 141.04,202.50 146.77,200.40 152.50,198.30 158.23,194.80 163.97,185.50 169.70,175.00 175.43,166.80 181.16,160.60 186.89,154.80 192.62,152.00 198.35,140.30 204.08,133.00 209.81,127.80 215.54,124.00 221.28,120.20 227.01,112.70 232.74,109.30 238.47,105.50 244.20,103.00 249.93,99.90 255.66,93.70 261.39,91.00 267.12,87.50 272.85,84.30 278.59,82.90 284.32,80.60 290.05,78.30 295.78,75.00 301.51,72.00 307.24,69.60 312.97,68.00 318.70,66.70 324.43,65.10 330.16,63.30 335.89,61.70 341.63,60.60 347.36,59.50 353.09,58.30 358.82,57.00 364.55,57.20 370.28,56.70 376.01,56.30 381.74,55.60 387.47,55.60 393.20,55.20 398.94,54.50 404.67,54.50 410.40,54.20 416.13,54.20 421.86,54.20 427.59,54.20 433.32,54.20 439.05,54.20 444.78,54.20 450.51,54.20 456.25,54.20 461.98,54.20 467.71,54.20 473.44,54.20 479.17,54.20" fill="none" stroke="#ff0000" stroke-width="1.5" stroke-linejoin="round"/>
<g fill="#ff0000"><circle cx="66.54" cy="214.30" r="2.4"/><circle cx="72.27" cy="214.10" r="2.4"/><circle cx="78.00" cy="213.70" r="2.4"/><circle cx="83.73" cy="213.30" r="2.4"/><circle cx="89.46" cy="212.90" r="2.4"/><circle cx="95.19" cy="212.70" r="2.4"/><circle cx="100.92" cy="211.30" r="2.4"/><circle cx="106.66" cy="210.90" r="2.4"/><circle cx="112.39" cy="208.80" r="2.4"/><circle cx="118.12" cy="206.90" r="2.4"/><circle cx="123.85" cy="204.40" r="2.4"/><circle cx="129.58" cy="202.10" r="2.4"/><circle cx="135.31" cy="198.20" r="2.4"/><circle cx="141.04" cy="197.10" r="2.4"/><circle cx="146.77" cy="194.10" r="2.4"/><circle cx="152.50" cy="191.00" r="2.4"/><circle cx="158.23" cy="187.80" r="2.4"/><circle cx="163.97" cy="176.00" r="2.4"/><circle cx="169.70" cy="163.90" r="2.4"/><circle cx="175.43" cy="155.20" r="2.4"/><circle cx="181.16" cy="148.80" r="2.4"/><circle cx="186.89" cy="141.60" r="2.4"/><circle cx="192.62" cy="136.00" r="2.4"/><circle cx="198.35" cy="124.00" r="2.4"/><circle cx="204.08" cy="116.10" r="2.4"/><circle cx="209.81" cy="110.50" r="2.4"/><circle cx="215.54" cy="107.20" r="2.4"/><circle cx="221.28" cy="102.60" r="2.4"/><circle cx="227.01" cy="96.20" r="2.4"/><circle cx="232.74" cy="92.40" r="2.4"/><circle cx="238.47" cy="88.80" r="2.4"/><circle cx="244.20" cy="86.20" r="2.4"/><circle cx="249.93" cy="81.20" r="2.4"/><circle cx="255.66" cy="75.40" r="2.4"/><circle cx="261.39" cy="72.30" r="2.4"/><circle cx="267.12" cy="68.10" r="2.4"/><circle cx="272.85" cy="64.80" r="2.4"/><circle cx="278.59" cy="62.60" r="2.4"/><circle cx="284.32" cy="60.80" r="2.4"/><circle cx="290.05" cy="58.70" r="2.4"/><circle cx="295.78" cy="55.30" r="2.4"/><circle cx="301.51" cy="52.80" r="2.4"/><circle cx="307.24" cy="50.80" r="2.4"/><circle cx="312.97" cy="48.20" r="2.4"/><circle cx="318.70" cy="46.60" r="2.4"/><circle cx="324.43" cy="44.80" r="2.4"/><circle cx="330.16" cy="43.20" r="2.4"/><circle cx="335.89" cy="42.10" r="2.4"/><circle cx="341.63" cy="41.40" r="2.4"/><circle cx="347.36" cy="40.30" r="2.4"/><circle cx="353.09" cy="39.20" r="2.4"/><circle cx="358.82" cy="38.30" r="2.4"/><circle cx="364.55" cy="37.60" r="2.4"/><circle cx="370.28" cy="36.90" r="2.4"/><circle cx="376.01" cy="35.80" r="2.4"/><circle cx="381.74" cy="35.80" r="2.4"/><circle cx="387.47" cy="35.30" r="2.4"/><circle cx="393.20" cy="34.20" r="2.4"/><circle cx="398.94" cy="33.50" r="2.4"/><circle cx="404.67" cy="33.50" r="2.4"/><circle cx="410.40" cy="33.40" r="2.4"/><circle cx="416.13" cy="32.90" r="2.4"/><circle cx="421.86" cy="32.90" r="2.4"/><circle cx="427.59" cy="32.90" r="2.4"/><circle cx="433.32" cy="32.90" r="2.4"/><circle cx="439.05" cy="32.90" r="2.4"/><circle cx="444.78" cy="32.90" r="2.4"/><circle cx="450.51" cy="32.90" r="2.4"/><circle cx="456.25" cy="32.90" r="2.4"/><circle cx="461.98" cy="32.90" r="2.4"/><circle cx="467.71" cy="32.90" r="2.4"/><circle cx="473.44" cy="32.90" r="2.4"/><circle cx="479.17" cy="32.90" r="2.4"/></g>
<path d="M63.74 215.90L66.54 211.30L69.34 215.90ZM69.47 215.80L72.27 211.20L75.07 215.80ZM75.20 215.60L78.00 211.00L80.80 215.60ZM80.93 215.40L83.73 210.80L86.53 215.40ZM86.66 215.20L89.46 210.60L92.26 215.20ZM92.39 215.00L95.19 210.40L97.99 215.00ZM98.12 214.60L100.92 210.00L103.72 214.60ZM103.86 214.00L106.66 209.40L109.45 214.00ZM109.59 212.60L112.39 208.00L115.19 212.60ZM115.32 211.20L118.12 206.60L120.92 211.20ZM121.05 208.80L123.85 204.20L126.65 208.80ZM126.78 207.30L129.58 202.70L132.38 207.30ZM132.51 205.20L135.31 200.60L138.11 205.20ZM138.24 204.10L141.04 199.50L143.84 204.10ZM143.97 202.00L146.77 197.40L149.57 202.00ZM149.70 199.90L152.50 195.30L155.30 199.90ZM155.43 196.40L158.23 191.80L161.03 196.40ZM161.16 187.10L163.97 182.50L166.77 187.10ZM166.90 176.60L169.70 172.00L172.50 176.60ZM172.63 168.40L175.43 163.80L178.23 168.40ZM178.36 162.20L181.16 157.60L183.96 162.20ZM184.09 156.40L186.89 151.80L189.69 156.40ZM189.82 153.60L192.62 149.00L195.42 153.60ZM195.55 141.90L198.35 137.30L201.15 141.90ZM201.28 134.60L204.08 130.00L206.88 134.60ZM207.01 129.40L209.81 124.80L212.61 129.40ZM212.74 125.60L215.54 121.00L218.34 125.60ZM218.47 121.80L221.28 117.20L224.08 121.80ZM224.21 114.30L227.01 109.70L229.81 114.30ZM229.94 110.90L232.74 106.30L235.54 110.90ZM235.67 107.10L238.47 102.50L241.27 107.10ZM241.40 104.60L244.20 100.00L247.00 104.60ZM247.13 101.50L249.93 96.90L252.73 101.50ZM252.86 95.30L255.66 90.70L258.46 95.30ZM258.59 92.60L261.39 88.00L264.19 92.60ZM264.32 89.10L267.12 84.50L269.92 89.10ZM270.05 85.90L272.85 81.30L275.65 85.90ZM275.79 84.50L278.59 79.90L281.39 84.50ZM281.52 82.20L284.32 77.60L287.12 82.20ZM287.25 79.90L290.05 75.30L292.85 79.90ZM292.98 76.60L295.78 72.00L298.58 76.60ZM298.71 73.60L301.51 69.00L304.31 73.60ZM304.44 71.20L307.24 66.60L310.04 71.20ZM310.17 69.60L312.97 65.00L315.77 69.60ZM315.90 68.30L318.70 63.70L321.50 68.30ZM321.63 66.70L324.43 62.10L327.23 66.70ZM327.36 64.90L330.16 60.30L332.96 64.90ZM333.09 63.30L335.89 58.70L338.69 63.30ZM338.83 62.20L341.63 57.60L344.43 62.20ZM344.56 61.10L347.36 56.50L350.16 61.10ZM350.29 59.90L353.09 55.30L355.89 59.90ZM356.02 58.60L358.82 54.00L361.62 58.60ZM361.75 58.80L364.55 54.20L367.35 58.80ZM367.48 58.30L370.28 53.70L373.08 58.30ZM373.21 57.90L376.01 53.30L378.81 57.90ZM378.94 57.20L381.74 52.60L384.54 57.20ZM384.67 57.20L387.47 52.60L390.27 57.20ZM390.40 56.80L393.20 52.20L396.00 56.80ZM396.14 56.10L398.94 51.50L401.74 56.10ZM401.87 56.10L404.67 51.50L407.47 56.10ZM407.60 55.80L410.40 51.20L413.20 55.80ZM413.33 55.80L416.13 51.20L418.93 55.80ZM419.06 55.80L421.86 51.20L424.66 55.80ZM424.79 55.80L427.59 51.20L430.39 55.80ZM430.52 55.80L433.32 51.20L436.12 55.80ZM436.25 55.80L439.05 51.20L441.85 55.80ZM441.98 55.80L444.78 51.20L447.58 55.80ZM447.71 55.80L450.51 51.20L453.31 55.80ZM453.45 55.80L456.25 51.20L459.05 55.80ZM459.18 55.80L461.98 51.20L464.78 55.80ZM464.91 55.80L467.71 51.20L470.51 55.80ZM470.64 55.80L473.44 51.20L476.24 55.80ZM476.37 55.80L479.17 51.20L481.97 55.80Z" fill="#ff0000"/>
<polyline points="66.54,214.30 72.27,214.20 78.00,214.10 83.73,213.90 89.46,213.60 95.19,213.10 100.92,212.40 106.66,211.60 112.39,209.90 118.12,208.20 123.85,205.90 129.58,203.90 135.31,201.90 141.04,200.40 146.77,198.50 152.50,196.50 158.23,192.20 163.97,182.30 169.70,169.30 175.43,161.20 181.16,154.50 186.89,150.00 192.62,146.30 198.35,134.50 204.08,126.50 209.81,120.80 215.54,116.00 221.28,112.00 227.01,105.30 232.74,102.00 238.47,98.60 244.20,95.20 249.93,90.00 255.66,84.70 261.39,82.00 267.12,79.60 272.85,76.50 278.59,73.00 284.32,71.20 290.05,68.50 295.78,65.90 301.51,62.70 307.24,61.00 312.97,59.50 318.70,57.60 324.43,56.00 330.16,54.00 335.89,53.20 341.63,52.40 347.36,51.60 353.09,50.90 358.82,50.20 364.55,49.50 370.28,48.80 376.01,48.20 381.74,47.60 387.47,47.00 393.20,46.50 398.94,46.00 404.67,45.50 410.40,45.10 416.13,44.70 421.86,44.40 427.59,44.20 433.32,44.10 439.05,44.00 444.78,44.00 450.51,43.90 456.25,43.90 461.98,43.80 467.71,43.80 473.44,43.80 479.17,43.80" fill="none" stroke="#2222ff" stroke-width="1.6" stroke-linejoin="round"/>
<g font-family="DejaVu Sans, sans-serif" font-stretch="condensed" font-size="12" letter-spacing="-0.3" fill="#222" stroke="#222" stroke-width="0.3"><text x="52.3" y="218.80" text-anchor="end">0</text><text x="52.3" y="202.38" text-anchor="end">25</text><text x="52.3" y="185.97" text-anchor="end">50</text><text x="52.3" y="169.55" text-anchor="end">75</text><text x="52.3" y="153.13" text-anchor="end">100</text><text x="52.3" y="136.72" text-anchor="end">125</text><text x="52.3" y="120.30" text-anchor="end">150</text><text x="52.3" y="103.88" text-anchor="end">175</text><text x="52.3" y="87.47" text-anchor="end">200</text><text x="52.3" y="71.05" text-anchor="end">225</text><text x="52.3" y="54.63" text-anchor="end">250</text><text x="52.3" y="38.22" text-anchor="end">275</text><text x="52.3" y="21.80" text-anchor="end">300</text><text x="497.4" y="218.80">0</text><text x="497.4" y="202.38">200</text><text x="497.4" y="185.97">400</text><text x="497.4" y="169.55">600</text><text x="497.4" y="153.13">800</text><text x="497.4" y="136.72">1000</text><text x="497.4" y="120.30">1200</text><text x="497.4" y="103.88">1400</text><text x="497.4" y="87.47">1600</text><text x="497.4" y="71.05">1800</text><text x="497.4" y="54.63">2000</text><text x="497.4" y="38.22">2200</text><text x="497.4" y="21.80">2400</text><text x="80.40" y="240.3" text-anchor="middle">20</text><text x="109.06" y="240.3" text-anchor="middle">25</text><text x="137.71" y="240.3" text-anchor="middle">30</text><text x="166.37" y="240.3" text-anchor="middle">35</text><text x="195.02" y="240.3" text-anchor="middle">40</text><text x="223.68" y="240.3" text-anchor="middle">45</text><text x="252.33" y="240.3" text-anchor="middle">50</text><text x="280.99" y="240.3" text-anchor="middle">55</text><text x="309.64" y="240.3" text-anchor="middle">60</text><text x="338.29" y="240.3" text-anchor="middle">65</text><text x="366.95" y="240.3" text-anchor="middle">70</text><text x="395.60" y="240.3" text-anchor="middle">75</text><text x="424.26" y="240.3" text-anchor="middle">80</text><text x="452.91" y="240.3" text-anchor="middle">85</text><text x="481.57" y="240.3" text-anchor="middle">90</text><text x="273" y="260.5" text-anchor="middle">Pit</text></g>
<text font-family="Liberation Sans, sans-serif" font-size="13.33" fill="#1a2462" stroke="#1a2462" stroke-width="0.2" transform="translate(17.7 154.3) rotate(-90)">Tonnage [Mton]</text>
<text font-family="Liberation Sans, sans-serif" font-size="13" fill="#1a2462" stroke="#1a2462" stroke-width="0.2" transform="translate(540.7 186.8) rotate(-90)">Cumulative value [MUSD]</text>
<g font-family="Liberation Sans, sans-serif" font-size="12" fill="#15152a" stroke="#15152a" stroke-width="0.25"><text x="92.4" y="287.8">waste</text><text x="92.4" y="304">ore</text><text x="173.7" y="287">cum value P5</text><text x="173.7" y="302.5">cum value P95</text><text x="304.8" y="288">cum exp value</text></g>
<rect x="132.5" y="280.5" width="31" height="7" fill="#c8c8c8" stroke="#000" stroke-opacity="0.55"/>
<rect x="132.5" y="295.5" width="31" height="7" fill="#ffff00" stroke="#000" stroke-opacity="0.55"/>
<path d="M262 284.7H295M262 298H295" stroke="#ff1010" stroke-width="1.5"/>
<path d="M275.6 285.6L278.2 282L280.8 285.6Z" fill="#ff0000"/><circle cx="278.2" cy="298" r="2.2" fill="#ff0000"/>
<path d="M392 284.8H425.5" stroke="#2222ff" stroke-width="1.8"/>
</svg>
</body></html>
